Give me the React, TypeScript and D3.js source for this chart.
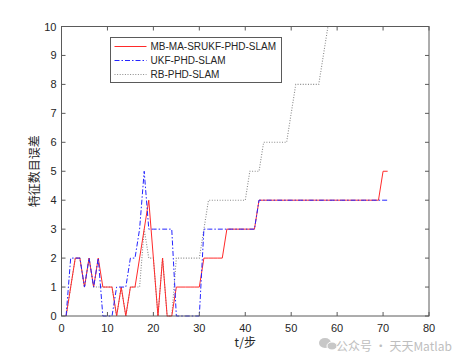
import React from "react";
import * as d3 from "d3";

const steps: number[] = d3.range(1, 72);
const mbValues: number[] = [
  0, 1, 2, 2, 1, 2, 1, 2, 1, 1,
  1, 0, 1, 0, 1, 1, 2, 3, 4, 2,
  0, 2, 0, 0, 1, 1, 1, 1, 1, 1,
  2, 2, 2, 2, 2, 3, 3, 3, 3, 3,
  3, 3, 4, 4, 4, 4, 4, 4, 4, 4,
  4, 4, 4, 4, 4, 4, 4, 4, 4, 4,
  4, 4, 4, 4, 4, 4, 4, 4, 4, 5,
  5,
];
const ukfValues: number[] = [
  0, 2, 2, 2, 1, 2, 1, 2, 0, 0,
  0, 1, 1, 1, 2, 2, 3, 5, 3, 3,
  3, 3, 3, 3, 0, 0, 0, 0, 0, 0,
  3, 3, 3, 3, 3, 3, 3, 3, 3, 3,
  3, 3, 4, 4, 4, 4, 4, 4, 4, 4,
  4, 4, 4, 4, 4, 4, 4, 4, 4, 4,
  4, 4, 4, 4, 4, 4, 4, 4, 4, 4,
  4,
];
const rbValues: number[] = [
  0, 1, 2, 2, 1, 2, 1, 1, 1, 1,
  1, 0, 1, 0, 1, 1, 1, 3, 2, 2,
  0, 2, 0, 0, 2, 2, 2, 2, 2, 2,
  3, 4, 4, 4, 4, 4, 4, 4, 4, 4,
  5, 5, 5, 6, 6, 6, 6, 6, 6, 7,
  8, 8, 8, 8, 8, 8, 9, 10, 10, 10,
  10, 10, 10, 10, 10, 10, 10, 10, 10, 10,
];
const xTicks: number[] = [0, 10, 20, 30, 40, 50, 60, 70, 80];
const yTicks: number[] = [0, 1, 2, 3, 4, 5, 6, 7, 8, 9, 10];
const seriesNames: string[] = ["MB-MA-SRUKF-PHD-SLAM", "UKF-PHD-SLAM", "RB-PHD-SLAM"];
const seriesColors: string[] = ["#ff2a2a", "#2424ff", "#8a8a8a"];
const seriesDash: string[] = ["none", "5,2,1.5,2", "1,1.6"];
const xLabel = "t/步";
const yLabel = "特征数目误差";
const watermark = "公众号 · 天天Matlab";

const W = 474;
const H = 355;
const left = 61.5;
const right = 429;
const top = 26.5;
const bottom = 316;

export default function App() {
  const x = d3.scaleLinear().domain([0, 80]).range([left, right]);
  const y = d3.scaleLinear().domain([0, 10]).range([bottom, top]);

  const allSeries = [
    { name: seriesNames[0], vals: mbValues, color: seriesColors[0], dash: seriesDash[0], n: 71 },
    { name: seriesNames[1], vals: ukfValues, color: seriesColors[1], dash: seriesDash[1], n: 71 },
    { name: seriesNames[2], vals: rbValues, color: seriesColors[2], dash: seriesDash[2], n: 70 },
  ];

  const line = d3
    .line<[number, number]>()
    .x((d) => x(d[0]))
    .y((d) => y(d[1]));

  const axisColor = "#5a5a5a";
  const textColor = "#262626";
  const font = "'Liberation Sans', Arial, sans-serif";
  const tickLen = 4;

  const drawOrder = [2, 0, 1];

  const legX = 110.5;
  const legY = 37.5;
  const legW = 171;
  const legH = 45;

  return (
    <svg
      width={W}
      height={H}
      viewBox={`0 0 ${W} ${H}`}
      style={{ position: "absolute", left: 0, top: 0, background: "#fff" }}
    >
      <rect x={0} y={0} width={W} height={H} fill="#fff" />
      <defs>
        <clipPath id="plotClip">
          <rect x={left} y={top - 1} width={right - left} height={bottom - top + 2} />
        </clipPath>
      </defs>

      <g clipPath="url(#plotClip)">
        {drawOrder.map((i) => {
          const s = allSeries[i];
          const pts: [number, number][] = steps.slice(0, s.n).map((t, k) => [t, s.vals[k]]);
          return (
            <path
              key={s.name}
              d={line(pts) || ""}
              fill="none"
              stroke={s.color}
              strokeWidth={i === 2 ? 1.1 : 1}
              strokeDasharray={s.dash}
              strokeLinejoin="miter"
            />
          );
        })}
      </g>

      <rect x={left} y={top} width={right - left} height={bottom - top} fill="none" stroke={axisColor} strokeWidth={1} />

      {xTicks.map((t) => (
        <g key={"x" + t}>
          <line x1={x(t)} x2={x(t)} y1={bottom} y2={bottom - tickLen} stroke={axisColor} />
          <line x1={x(t)} x2={x(t)} y1={top} y2={top + tickLen} stroke={axisColor} />
          <text
            x={x(t)}
            y={bottom + 16}
            textAnchor="middle"
            fontFamily={font}
            fontSize={11}
            fill={textColor}
          >
            {t}
          </text>
        </g>
      ))}

      {yTicks.map((t) => (
        <g key={"y" + t}>
          <line x1={left} x2={left + tickLen} y1={y(t)} y2={y(t)} stroke={axisColor} />
          <line x1={right} x2={right - tickLen} y1={y(t)} y2={y(t)} stroke={axisColor} />
          <text
            x={left - 5}
            y={y(t) + 4}
            textAnchor="end"
            fontFamily={font}
            fontSize={11}
            fill={textColor}
          >
            {t}
          </text>
        </g>
      ))}

      <text
        x={(left + right) / 2}
        y={347}
        textAnchor="middle"
        fontFamily="'Noto Sans CJK SC', 'Liberation Sans', sans-serif"
        fontSize={12}
        fill={textColor}
      >
        {xLabel}
      </text>
      <text
        transform={`translate(39, ${(top + bottom) / 2}) rotate(-90)`}
        textAnchor="middle"
        fontFamily="'Noto Sans CJK SC', sans-serif"
        fontSize={12}
        fill={textColor}
      >
        {yLabel}
      </text>

      <rect x={legX} y={legY} width={legW} height={legH} fill="#fff" stroke={axisColor} strokeWidth={1} />
      {allSeries.map((s, i) => {
        const ly = legY + 9 + i * 14;
        return (
          <g key={"leg" + i}>
            <line
              x1={legX + 4}
              x2={legX + 36}
              y1={ly}
              y2={ly}
              stroke={s.color}
              strokeWidth={1}
              strokeDasharray={s.dash}
            />
            <text x={legX + 40} y={ly + 3.5} fontFamily={font} fontSize={10} fill={textColor}>
              {s.name}
            </text>
          </g>
        );
      })}

      <g opacity={0.55}>
        <ellipse cx={325} cy={343} rx={6} ry={5} fill="#9a9a9a" />
        <ellipse cx={332} cy={346} rx={5} ry={4} fill="#9a9a9a" stroke="#fff" strokeWidth={1} />
        <text
          x={336}
          y={350.5}
          fontFamily="'Noto Sans CJK SC', sans-serif"
          fontSize={12}
          fill="#8a8a8a"
        >
          {watermark}
        </text>
      </g>
    </svg>
  );
}
